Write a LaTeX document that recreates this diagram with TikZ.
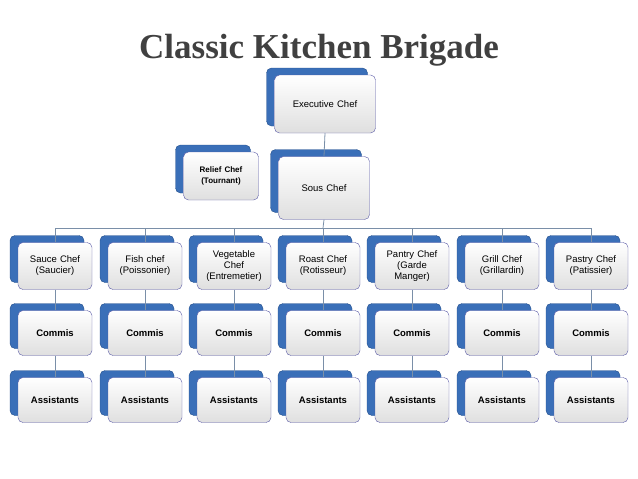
\documentclass[tikz,border=0pt]{standalone}
\usepackage{fontspec}
\setmainfont{Liberation Sans}
\newfontfamily\titlefont{Liberation Serif}
\definecolor{bbl}{HTML}{3A6FB8}
\definecolor{bbd}{HTML}{24508C}
\definecolor{ln}{HTML}{7A8FA8}
\begin{document}
\begin{tikzpicture}[x=1pt,y=-1pt,
  back/.style={draw=bbd, fill=bbl, rounded corners=5pt, inner sep=0pt},
  front/.style={draw=gray!70!blue, rounded corners=5pt, top color=white, bottom color=gray!25, inner sep=1pt, align=center, font=\fontsize{9.5}{11}\selectfont},
  conn/.style={draw=ln, line width=0.8pt}]
\useasboundingbox (0,0) rectangle (638,479);
\newcommand{\bx}[6]{%
  \node[back, minimum width=#4pt, minimum height=#5pt] at (#2-8,#3-7) {};
  \node[front, minimum width=#4pt, minimum height=#5pt, text width=#4pt-4pt] (#1) at (#2,#3) {#6};}
\node[font=\titlefont\bfseries\fontsize{35}{40}\selectfont, text=black!75] at (319,50) {Classic Kitchen Brigade};
\coordinate (bus) at (323,228);
\bx{exec}{325}{104}{101}{58}{Executive Chef}
\bx{sous}{324}{188}{91}{63}{Sous Chef}
\bx{relief}{221}{176}{75}{48}{\fontsize{8}{9.5}\selectfont\bfseries Relief Chef\\(Tournant)}
\draw[conn] (exec.south) -- (sous.north);
\draw[conn] (sous.south) -- (bus);
\foreach \n/\c/\t in {a/55/{Sauce Chef\\(Saucier)},b/145/{Fish chef\\(Poissonier)},c/234/{Vegetable\\Chef\\(Entremetier)},d/323/{Roast Chef\\(Rotisseur)},e/412/{Pantry Chef\\(Garde\\Manger)},f/502/{Grill Chef\\(Grillardin)},g/591/{Pastry Chef\\(Patissier)}}{
  \bx{chef\n}{\c}{266}{74}{47}{\t}
  \bx{commis\n}{\c}{333}{74}{45}{\bfseries Commis}
  \bx{asst\n}{\c}{400}{74}{45}{\bfseries Assistants}
  \draw[conn] (chef\n.north) -- (chef\n.north |- bus);
  \draw[conn] (chef\n.south) -- (commis\n.north);
  \draw[conn] (commis\n.south) -- (asst\n.north);
}
\draw[conn] (chefa.north |- bus) -- (chefg.north |- bus);
\end{tikzpicture}
\end{document}
